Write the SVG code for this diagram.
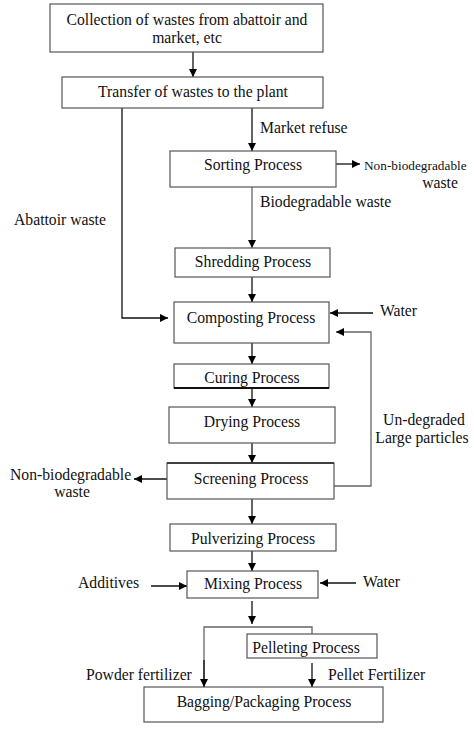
<svg xmlns="http://www.w3.org/2000/svg" width="474" height="734" viewBox="0 0 474 734">
<style>
.box{fill:#fff;stroke:#555;stroke-width:1.2}
.t{font-family:'Liberation Serif','Tinos','DejaVu Serif',serif;font-size:15.7px;fill:#111}
.c{text-anchor:middle}
.ln{fill:none;stroke:#111;stroke-width:1.3}
.lg{fill:none;stroke:#666;stroke-width:1.3}
</style>
<defs>
<marker id="ah" viewBox="0 0 10 10" refX="10" refY="5" markerWidth="8" markerHeight="8" markerUnits="userSpaceOnUse" orient="auto">
<path d="M0,0 L10,5 L0,10 z" fill="#000"/>
</marker>
</defs>
<rect width="474" height="734" fill="#fff"/>
<g id="connectors">
<line class="ln" x1="193" y1="52" x2="193" y2="77" marker-end="url(#ah)"/>
<line class="ln" x1="252" y1="108" x2="252" y2="151" marker-end="url(#ah)"/>
<polyline class="ln" points="122,108 122,318 168,318" marker-end="url(#ah)"/>
<line class="ln" x1="336" y1="164" x2="360" y2="164" marker-end="url(#ah)"/>
<line class="lg" x1="252" y1="187" x2="252" y2="248" marker-end="url(#ah)"/>
<line class="ln" x1="252" y1="277" x2="252" y2="302" marker-end="url(#ah)"/>
<line class="ln" x1="373" y1="313" x2="330" y2="313" marker-end="url(#ah)"/>
<polyline class="lg" points="334,486 371,486 371,332 336,332" marker-end="url(#ah)"/>
<line class="ln" x1="252" y1="343" x2="252" y2="364" marker-end="url(#ah)"/>
<line class="ln" x1="252" y1="388" x2="252" y2="407" marker-end="url(#ah)"/>
<line class="ln" x1="252" y1="443" x2="252" y2="463" marker-end="url(#ah)"/>
<line class="ln" x1="167" y1="479" x2="134" y2="479" marker-end="url(#ah)"/>
<line class="ln" x1="252" y1="499" x2="252" y2="524" marker-end="url(#ah)"/>
<line class="ln" x1="252" y1="551" x2="252" y2="571" marker-end="url(#ah)"/>
<line class="ln" x1="151" y1="586" x2="187" y2="586" marker-end="url(#ah)"/>
<line class="ln" x1="356" y1="583" x2="320" y2="583" marker-end="url(#ah)"/>
<line class="ln" x1="252" y1="601" x2="252" y2="624" marker-end="url(#ah)"/>
<polyline class="lg" points="204,687 204,627 312,627 312,634"/>
<line class="ln" x1="204" y1="660" x2="204" y2="687" marker-end="url(#ah)"/>
<line class="ln" x1="312" y1="663" x2="312" y2="687" marker-end="url(#ah)"/>
</g>
<g id="n1"><rect class="box" x="50" y="4" width="273" height="48"/>
<text class="t c" x="187" y="25">Collection of wastes from abattoir and</text>
<text class="t c" x="187" y="43">market, etc</text></g>
<g id="n2"><rect class="box" x="62" y="77" width="261" height="31"/>
<text class="t c" x="193" y="97">Transfer of wastes to the plant</text></g>
<g id="n3"><rect class="box" x="170" y="151" width="166" height="36"/>
<text class="t c" x="253" y="170">Sorting Process</text></g>
<g id="n4"><rect class="box" x="175" y="248" width="155" height="29"/>
<text class="t c" x="253" y="267">Shredding Process</text></g>
<g id="n5"><rect class="box" x="174" y="302" width="155" height="41"/>
<text class="t c" x="251" y="323">Composting Process</text></g>
<g id="n6"><rect class="box" x="174" y="364" width="155" height="24"/>
<line x1="174" y1="388" x2="329" y2="388" stroke="#111" stroke-width="2"/>
<text class="t c" x="252" y="383">Curing Process</text></g>
<g id="n7"><rect class="box" x="169" y="407" width="166" height="36"/>
<text class="t c" x="252" y="427">Drying Process</text></g>
<g id="n8"><rect class="box" x="167" y="463" width="167" height="36"/>
<line x1="167" y1="463" x2="334" y2="463" stroke="#222" stroke-width="1.6"/>
<text class="t c" x="251" y="484">Screening Process</text></g>
<g id="n9"><rect class="box" x="170" y="524" width="166" height="27"/>
<text class="t c" x="253" y="544">Pulverizing Process</text></g>
<g id="n10"><rect class="box" x="187" y="571" width="131" height="27"/>
<text class="t c" x="253" y="589">Mixing Process</text></g>
<g id="n11"><rect class="box" x="247" y="634" width="130" height="24"/>
<text class="t c" x="306" y="653">Pelleting Process</text></g>
<g id="n12"><rect class="box" x="144" y="687" width="239" height="35"/>
<text class="t c" x="264" y="707">Bagging/Packaging Process</text></g>
<g id="labels">
<text class="t" x="364" y="170" style="font-size:13.3px">Non-biodegradable</text>
<text class="t c" x="440" y="188">waste</text>
<text class="t" x="260" y="133">Market refuse</text>
<text class="t" x="260" y="207">Biodegradable waste</text>
<text class="t" x="14" y="225">Abattoir waste</text>
<text class="t" x="380" y="316">Water</text>
<text class="t c" x="424" y="425">Un-degraded</text>
<text class="t c" x="422" y="443">Large particles</text>
<text class="t" x="10" y="480">Non-biodegradable</text>
<text class="t c" x="72" y="497">waste</text>
<text class="t" x="78" y="588">Additives</text>
<text class="t" x="363" y="587">Water</text>
<text class="t" x="86" y="680">Powder fertilizer</text>
<text class="t" x="328" y="680">Pellet Fertilizer</text>
</g>
</svg>
